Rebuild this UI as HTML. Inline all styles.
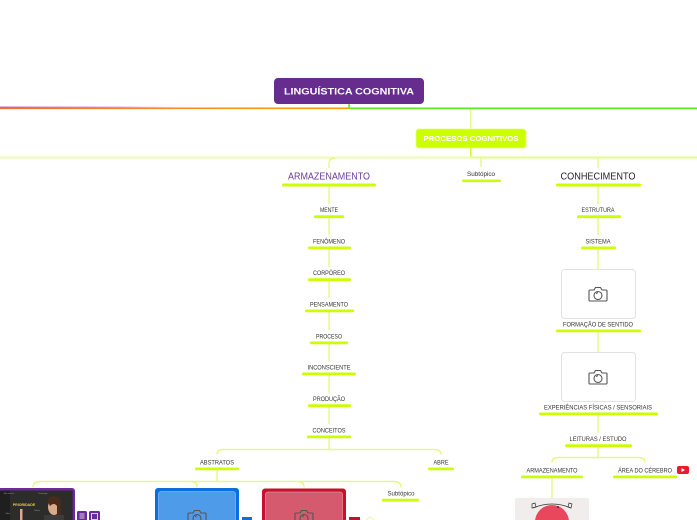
<!DOCTYPE html>
<html><head><meta charset="utf-8"><style>
html,body{margin:0;padding:0;background:#fff;}
svg{display:block;}
text{font-family:"Liberation Sans","DejaVu Sans",sans-serif;}
</style></head><body>
<svg width="697" height="520" viewBox="0 0 697 520" xmlns="http://www.w3.org/2000/svg">
<defs>
<linearGradient id="pk" x1="0" x2="1" y1="0" y2="0">
<stop offset="0" stop-color="#c868b8"/><stop offset="0.6" stop-color="#e0a8d8"/><stop offset="1" stop-color="#f6e6f3" stop-opacity="0"/>
</linearGradient>
<linearGradient id="or" x1="0" x2="1" y1="0" y2="0">
<stop offset="0" stop-color="#f06a3a"/><stop offset="0.5" stop-color="#f88a20"/><stop offset="1" stop-color="#ff9900"/>
</linearGradient>
<g id="cam" fill="none" stroke="#555" stroke-width="1.1">
<path d="M-8,-4 h4 l1.5,-2.5 h5 l1.5,2.5 h4 a1,1 0 0 1 1,1 v9 a1,1 0 0 1 -1,1 h-16 a1,1 0 0 1 -1,-1 v-9 a1,1 0 0 1 1,-1 z"/>
<circle cx="0" cy="1.5" r="4"/>
<path d="M-1.5,0 a2,2 0 0 1 1.5,-1.5"/>
</g>
</defs>

<!-- top connectors -->
<rect x="0" y="106.5" width="200" height="1" fill="url(#pk)"/>
<rect x="0" y="107.5" width="349" height="1.6" fill="url(#or)"/>
<rect x="349" y="107.5" width="348" height="1.6" fill="#5ae81c"/>
<rect x="348.3" y="103" width="1.5" height="5.5" fill="#5ae81c"/>
<rect x="470" y="109" width="1.4" height="20" fill="#e4ff8c"/>
<rect x="470" y="148" width="1.6" height="9" fill="#d4f530"/>
<rect x="0" y="156.5" width="697" height="2" fill="#ecffa8"/>
<rect x="471" y="156.5" width="226" height="2" fill="#e2ff80"/>

<!-- root -->
<rect x="274" y="78" width="150" height="26" rx="4" fill="#662d8f"/>
<text x="349" y="94.5" text-anchor="middle" font-size="9.5" font-weight="bold" fill="#fff" textLength="130" lengthAdjust="spacingAndGlyphs">LINGUÍSTICA COGNITIVA</text>

<!-- procesos -->
<rect x="416" y="129" width="110" height="19" rx="3" fill="#ccff00" stroke="#e4ff70" stroke-width="0.8"/>
<text x="471" y="141" text-anchor="middle" font-size="7" font-weight="bold" fill="#fff" textLength="95" lengthAdjust="spacingAndGlyphs">PROCESOS COGNITIVOS</text>

<g fill="none" stroke="#e2fa84" stroke-width="1.4">
<path d="M335,158 q-6,0 -6,6 v4"/>
<path d="M481,158 v9"/>
<path d="M598,158 v10"/>
<path d="M329,186 v18"/>
<path d="M329,218 v17"/>
<path d="M329,249 v18"/>
<path d="M329,281 v17"/>
<path d="M329,312 v18"/>
<path d="M329,344 v17"/>
<path d="M329,375 v18"/>
<path d="M329,407 v17"/>
<path d="M329,438 v11"/>
<path d="M223,449.5 h212 q6,0 6,5"/>
<path d="M223,449.5 q-6,0 -6,5"/>
<path d="M217,470 v11.5"/>
<path d="M40,481.5 h354 q7,0 7,6"/>
<path d="M40,481.5 q-7,0 -7,6"/>
<path d="M191,481.5 q6,0 6,6"/>
<path d="M298,481.5 q6,0 6,6"/>
<path d="M598,186 v18"/>
<path d="M598,218 v17"/>
<path d="M598,249 v20"/>
<path d="M598,332 v20"/>
<path d="M598,415 v18"/>
<path d="M598,447 v10"/>
<path d="M558,457.5 h81 q6,0 6,5"/>
<path d="M558,457.5 q-6,0 -6,5"/>
<path d="M552,478 v20"/>
</g>

<!-- bars -->
<g fill="#ccff00">
<rect x="282" y="183.5" width="94" height="3" rx="1.5"/>
<rect x="462" y="179.5" width="39" height="2.6" rx="1.3"/>
<rect x="556" y="183.5" width="85" height="3" rx="1.5"/>
<rect x="314" y="215.3" width="30" height="2.8" rx="1.4"/>
<rect x="308" y="246.5" width="43" height="2.8" rx="1.4"/>
<rect x="308" y="278.3" width="43" height="2.8" rx="1.4"/>
<rect x="305" y="309.5" width="49" height="2.8" rx="1.4"/>
<rect x="310" y="341.5" width="38" height="2.8" rx="1.4"/>
<rect x="302" y="372.5" width="54" height="2.8" rx="1.4"/>
<rect x="308" y="404.3" width="43" height="2.8" rx="1.4"/>
<rect x="307" y="435.5" width="44" height="2.8" rx="1.4"/>
<rect x="195" y="467.5" width="44" height="2.8" rx="1.4"/>
<rect x="428" y="467.5" width="26" height="2.8" rx="1.4"/>
<rect x="382" y="498.7" width="37" height="2.8" rx="1.4"/>
<rect x="577" y="215.3" width="44" height="2.8" rx="1.4"/>
<rect x="581" y="246.5" width="35" height="2.8" rx="1.4"/>
<rect x="556" y="329.5" width="85" height="2.8" rx="1.4"/>
<rect x="539" y="412.5" width="119" height="2.8" rx="1.4"/>
<rect x="565" y="444.3" width="67" height="2.8" rx="1.4"/>
<rect x="521" y="475.5" width="62" height="2.8" rx="1.4"/>
<rect x="613" y="475.5" width="64" height="2.8" rx="1.4"/>
</g>

<!-- labels -->
<text x="329" y="179.5" text-anchor="middle" font-size="10" fill="#6b3a9a" textLength="82" lengthAdjust="spacingAndGlyphs">ARMAZENAMENTO</text>
<text x="598" y="179.5" text-anchor="middle" font-size="10" fill="#222" textLength="75" lengthAdjust="spacingAndGlyphs">CONHECIMENTO</text>
<g font-size="6" fill="#333" text-anchor="middle">
<text x="481" y="176.2" textLength="28" lengthAdjust="spacingAndGlyphs">Subtópico</text>
<text x="329" y="212.2" textLength="18" lengthAdjust="spacingAndGlyphs">MENTE</text>
<text x="329" y="243.4" textLength="32" lengthAdjust="spacingAndGlyphs">FENÔMENO</text>
<text x="329" y="275.2" textLength="32" lengthAdjust="spacingAndGlyphs">CORPÓREO</text>
<text x="329" y="306.4" textLength="38" lengthAdjust="spacingAndGlyphs">PENSAMENTO</text>
<text x="329" y="338.4" textLength="26" lengthAdjust="spacingAndGlyphs">PROCESO</text>
<text x="329" y="369.4" textLength="43" lengthAdjust="spacingAndGlyphs">INCONSCIENTE</text>
<text x="329" y="401.2" textLength="32" lengthAdjust="spacingAndGlyphs">PRODUÇÃO</text>
<text x="329" y="432.4" textLength="33" lengthAdjust="spacingAndGlyphs">CONCEITOS</text>
<text x="217" y="464.4" textLength="34" lengthAdjust="spacingAndGlyphs">ABSTRATOS</text>
<text x="441" y="464.4" textLength="15" lengthAdjust="spacingAndGlyphs">ABRE</text>
<text x="401" y="495.4" textLength="27" lengthAdjust="spacingAndGlyphs">Subtópico</text>
<text x="598" y="212.2" textLength="33" lengthAdjust="spacingAndGlyphs">ESTRUTURA</text>
<text x="598" y="243.4" textLength="25" lengthAdjust="spacingAndGlyphs">SISTEMA</text>
<text x="598" y="326.4" textLength="70" lengthAdjust="spacingAndGlyphs">FORMAÇÃO DE SENTIDO</text>
<text x="598" y="409.4" textLength="108" lengthAdjust="spacingAndGlyphs">EXPERIÊNCIAS FÍSICAS / SENSORIAIS</text>
<text x="598" y="441.2" textLength="57" lengthAdjust="spacingAndGlyphs">LEITURAS / ESTUDO</text>
<text x="552" y="472.4" textLength="51" lengthAdjust="spacingAndGlyphs">ARMAZENAMENTO</text>
<text x="645" y="472.4" textLength="54" lengthAdjust="spacingAndGlyphs">ÁREA DO CÉREBRO</text>
</g>

<!-- youtube icon -->
<rect x="677" y="466" width="12" height="8" rx="2" fill="#e81c2a"/>
<path d="M681.5,468 l3.5,2 l-3.5,2 z" fill="#fff"/>

<!-- image placeholders right -->
<rect x="561.5" y="269.5" width="74" height="49" rx="3" fill="#fff" stroke="#e2e2e2"/>
<use href="#cam" x="598" y="294"/>
<rect x="561.5" y="352.5" width="74" height="49" rx="3" fill="#fff" stroke="#e2e2e2"/>
<use href="#cam" x="598" y="377"/>

<!-- brain image -->
<rect x="515" y="498" width="74" height="30" rx="2" fill="#f2eded"/>
<circle cx="552" cy="522" r="17" fill="#e8475c"/>
<path d="M533,508 q19,-8 38,0" fill="none" stroke="#333" stroke-width="0.8"/>
<path d="M532,504 l3,-1 l1,4 l-4,1 z M569,503 l3,1 l-1,4 l-3,-1 z" fill="none" stroke="#333" stroke-width="0.7"/>
<circle cx="558" cy="507" r="1" fill="#333"/>

<!-- purple image box -->
<rect x="-4" y="488" width="79" height="40" rx="3" fill="#6a2c9b"/>
<rect x="-2" y="490.5" width="74.5" height="35" fill="#1f1f1f"/>
<rect x="10" y="490.5" width="62" height="35" fill="#2c2c2a"/>
<text x="24" y="506" font-size="3.6" font-weight="bold" fill="#e8d34a" text-anchor="middle">PRIORIDADE</text>
<g fill="#9a9a90" font-size="2" text-anchor="middle">
<text x="9" y="494">Mas tarefas</text><text x="43" y="494">Estratégia</text>
<text x="8" y="514">Meta</text><text x="37" y="511">Tabela</text>
</g>
<ellipse cx="54" cy="507" rx="6" ry="8" fill="#d9a98c"/>
<path d="M47,500 q7,-8 14,0 v20 h-4 v-14 q-3,-4 -7,0 z" fill="#4a2a1a"/>
<rect x="44" y="515" width="20" height="10" fill="#3b3b3b"/>
<rect x="20" y="509" width="2.5" height="11" fill="#d9a98c"/>
<rect x="77" y="511" width="10" height="10" rx="1.5" fill="#6a2c9b"/>
<rect x="89" y="511" width="11" height="10" rx="1.5" fill="#6a2c9b"/>
<g stroke="#fff" stroke-width="0.8">
<path d="M79.5,514 h5 M79.5,516 h5 M79.5,518 h5"/>
<path d="M91.5,513.5 h6 v6 h-6 z" fill="none"/>
</g>

<!-- blue box -->
<rect x="155" y="488" width="84" height="40" rx="3" fill="#0a6fdc"/>
<rect x="158.5" y="491.5" width="77" height="36" rx="2.5" fill="#4d9be9" stroke="#7db6f0" stroke-width="0.8"/>
<use href="#cam" x="197" y="517"/>
<rect x="242" y="517" width="10" height="5" fill="#0a6fdc"/>

<!-- red box -->
<rect x="262" y="488.5" width="84" height="40" rx="3" fill="#c8102e"/>
<rect x="265.5" y="492" width="77" height="36" rx="2.5" fill="#d65a6e" stroke="#e48898" stroke-width="0.8"/>
<use href="#cam" x="304" y="517"/>
<rect x="349" y="517" width="11" height="5" fill="#c8102e"/>
<circle cx="370" cy="521" r="3.5" fill="#fff" stroke="#e6ff8c" stroke-width="1"/>
</svg>
</body></html>
